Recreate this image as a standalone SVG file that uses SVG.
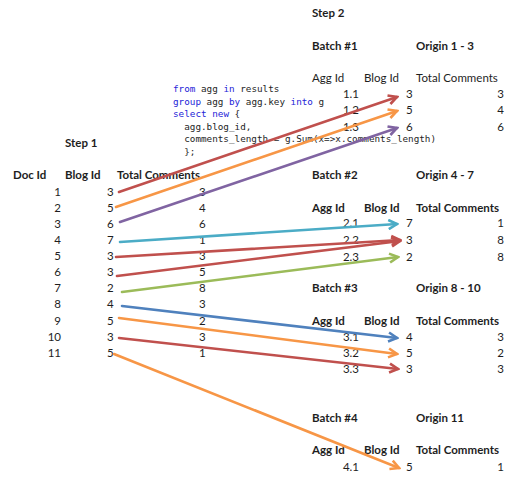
<svg xmlns="http://www.w3.org/2000/svg" width="520" height="480" viewBox="0 0 520 480">
<style>
  text { font-family: Lato, "Open Sans", "Liberation Sans", sans-serif; font-size: 11.5px; fill: #1e1e1e; }
  .b { font-weight: bold; }
  .r { text-anchor: end; }
  .code { font-family: "DejaVu Sans Mono", "Liberation Mono", monospace; font-size: 9.3px; fill: #1e1e1e; white-space: pre; }
  .kw { fill: #2424d8; }
  .ln { fill: none; stroke-width: 2.6; stroke-linecap: round; }
  .red { stroke: #c0504d; }
  .org { stroke: #f79646; }
  .pur { stroke: #8064a2; }
  .cyn { stroke: #4bacc6; }
  .grn { stroke: #9bbb59; }
  .blu { stroke: #4f81bd; }
</style>
<defs>
  <marker id="mRed" viewBox="0 0 12 12" refX="10" refY="6" markerWidth="12" markerHeight="12" markerUnits="userSpaceOnUse" orient="auto"><path d="M1.5,1.5 L10,6 L1.5,10.5" fill="none" stroke="#c0504d" stroke-width="2.6"/></marker>
  <marker id="mOrg" viewBox="0 0 12 12" refX="10" refY="6" markerWidth="12" markerHeight="12" markerUnits="userSpaceOnUse" orient="auto"><path d="M1.5,1.5 L10,6 L1.5,10.5" fill="none" stroke="#f79646" stroke-width="2.6"/></marker>
  <marker id="mPur" viewBox="0 0 12 12" refX="10" refY="6" markerWidth="12" markerHeight="12" markerUnits="userSpaceOnUse" orient="auto"><path d="M1.5,1.5 L10,6 L1.5,10.5" fill="none" stroke="#8064a2" stroke-width="2.6"/></marker>
  <marker id="mCyn" viewBox="0 0 12 12" refX="10" refY="6" markerWidth="12" markerHeight="12" markerUnits="userSpaceOnUse" orient="auto"><path d="M1.5,1.5 L10,6 L1.5,10.5" fill="none" stroke="#4bacc6" stroke-width="2.6"/></marker>
  <marker id="mGrn" viewBox="0 0 12 12" refX="10" refY="6" markerWidth="12" markerHeight="12" markerUnits="userSpaceOnUse" orient="auto"><path d="M1.5,1.5 L10,6 L1.5,10.5" fill="none" stroke="#9bbb59" stroke-width="2.6"/></marker>
  <marker id="mBlu" viewBox="0 0 12 12" refX="10" refY="6" markerWidth="12" markerHeight="12" markerUnits="userSpaceOnUse" orient="auto"><path d="M1.5,1.5 L10,6 L1.5,10.5" fill="none" stroke="#4f81bd" stroke-width="2.6"/></marker>
</defs>
<rect width="520" height="480" fill="#ffffff"/>

<g id="step1">
  <text class="b" x="65" y="147">Step 1</text>
  <text class="b" x="13" y="179">Doc Id</text>
  <text class="b" x="65" y="179">Blog Id</text>
  <text class="b" x="117" y="179">Total Comments</text>
  <g id="step1-docid">
    <text class="r" x="61" y="196">1</text>
    <text class="r" x="61" y="212">2</text>
    <text class="r" x="61" y="228">3</text>
    <text class="r" x="61" y="244">4</text>
    <text class="r" x="61" y="260">5</text>
    <text class="r" x="61" y="276">6</text>
    <text class="r" x="61" y="292">7</text>
    <text class="r" x="61" y="308">8</text>
    <text class="r" x="61" y="325">9</text>
    <text class="r" x="61" y="341">10</text>
    <text class="r" x="61" y="357">11</text>
  </g>
  <g id="step1-blogid">
    <text x="107" y="196">3</text>
    <text x="107" y="212">5</text>
    <text x="107" y="228">6</text>
    <text x="107" y="244">7</text>
    <text x="107" y="260">3</text>
    <text x="107" y="276">3</text>
    <text x="107" y="292">2</text>
    <text x="107" y="308">4</text>
    <text x="107" y="325">5</text>
    <text x="107" y="341">3</text>
    <text x="107" y="357">5</text>
  </g>
  <g id="step1-total">
    <text x="199" y="196">3</text>
    <text x="199" y="212">4</text>
    <text x="199" y="228">6</text>
    <text x="199" y="244">1</text>
    <text x="199" y="260">3</text>
    <text x="199" y="276">5</text>
    <text x="199" y="292">8</text>
    <text x="199" y="308">3</text>
    <text x="199" y="325">2</text>
    <text x="199" y="341">3</text>
    <text x="199" y="357">1</text>
  </g>
</g>

<g id="code">
  <text class="code" x="173" y="92"><tspan class="kw">from</tspan> agg <tspan class="kw">in</tspan> results</text>
  <text class="code" x="173" y="105"><tspan class="kw">group</tspan> agg <tspan class="kw">by</tspan> agg.key <tspan class="kw">into</tspan> g</text>
  <text class="code" x="173" y="117"><tspan class="kw">select</tspan> <tspan class="kw">new</tspan> {</text>
  <text class="code" x="173" y="130">  agg.blog_id,</text>
  <text class="code" x="173" y="142">  comments_length = g.Sum(x=&gt;x.comments_length)</text>
  <text class="code" x="173" y="155">  };</text>
</g>

<g id="step2-title">
  <text class="b" x="312" y="17">Step 2</text>
</g>

<g id="batch1">
  <text class="b" x="312" y="50">Batch #1</text>
  <text class="b" x="416" y="50">Origin 1 - 3</text>
  <text x="312" y="82">Agg Id</text>
  <text x="364" y="82">Blog Id</text>
  <text x="416" y="82">Total Comments</text>
  <text class="r" x="359" y="98">1.1</text>
  <text class="r" x="359" y="114">1.2</text>
  <text class="r" x="359" y="131">1.3</text>
  <text x="406" y="98">3</text>
  <text x="406" y="114">5</text>
  <text x="406" y="131">6</text>
  <text class="r" x="504" y="98">3</text>
  <text class="r" x="504" y="114">4</text>
  <text class="r" x="504" y="131">6</text>
</g>

<g id="batch2">
  <text class="b" x="312" y="179">Batch #2</text>
  <text class="b" x="416" y="179">Origin 4 - 7</text>
  <text class="b" x="312" y="212">Agg Id</text>
  <text class="b" x="364" y="212">Blog Id</text>
  <text class="b" x="416" y="212">Total Comments</text>
  <text class="r" x="359" y="227">2.1</text>
  <text class="r" x="359" y="244">2.2</text>
  <text class="r" x="359" y="261">2.3</text>
  <text x="406" y="227">7</text>
  <text x="406" y="244">3</text>
  <text x="406" y="261">2</text>
  <text class="r" x="504" y="227">1</text>
  <text class="r" x="504" y="244">8</text>
  <text class="r" x="504" y="261">8</text>
</g>

<g id="batch3">
  <text class="b" x="312" y="292">Batch #3</text>
  <text class="b" x="416" y="292">Origin 8  - 10</text>
  <text class="b" x="312" y="325">Agg Id</text>
  <text class="b" x="364" y="325">Blog Id</text>
  <text class="b" x="416" y="325">Total Comments</text>
  <text class="r" x="359" y="341">3.1</text>
  <text class="r" x="359" y="357">3.2</text>
  <text class="r" x="359" y="373">3.3</text>
  <text x="406" y="341">4</text>
  <text x="406" y="357">5</text>
  <text x="406" y="373">3</text>
  <text class="r" x="504" y="341">3</text>
  <text class="r" x="504" y="357">2</text>
  <text class="r" x="504" y="373">3</text>
</g>

<g id="batch4">
  <text class="b" x="312" y="422">Batch #4</text>
  <text class="b" x="416" y="422">Origin 11</text>
  <text class="b" x="312" y="454">Agg Id</text>
  <text class="b" x="364" y="454">Blog Id</text>
  <text class="b" x="416" y="454">Total Comments</text>
  <text class="r" x="359" y="471">4.1</text>
  <text x="406" y="471">5</text>
  <text class="r" x="504" y="471">1</text>
</g>

<g id="connectors">
  <line class="ln red" x1="119" y1="192" x2="397" y2="97" marker-end="url(#mRed)"/>
  <line class="ln org" x1="116" y1="207" x2="397" y2="111" marker-end="url(#mOrg)"/>
  <line class="ln pur" x1="120" y1="222" x2="397" y2="128" marker-end="url(#mPur)"/>
  <line class="ln cyn" x1="120" y1="242" x2="397" y2="224" marker-end="url(#mCyn)"/>
  <line class="ln red" x1="116" y1="257" x2="400" y2="240" marker-end="url(#mRed)"/>
  <line class="ln red" x1="117" y1="276" x2="400" y2="241" marker-end="url(#mRed)"/>
  <line class="ln grn" x1="122" y1="292" x2="398" y2="257" marker-end="url(#mGrn)"/>
  <line class="ln blu" x1="122" y1="306" x2="397" y2="338" marker-end="url(#mBlu)"/>
  <line class="ln org" x1="119" y1="318" x2="397" y2="354" marker-end="url(#mOrg)"/>
  <line class="ln red" x1="119" y1="338" x2="398" y2="369" marker-end="url(#mRed)"/>
  <line class="ln org" x1="114" y1="354" x2="399" y2="468" marker-end="url(#mOrg)"/>
</g>
</svg>
